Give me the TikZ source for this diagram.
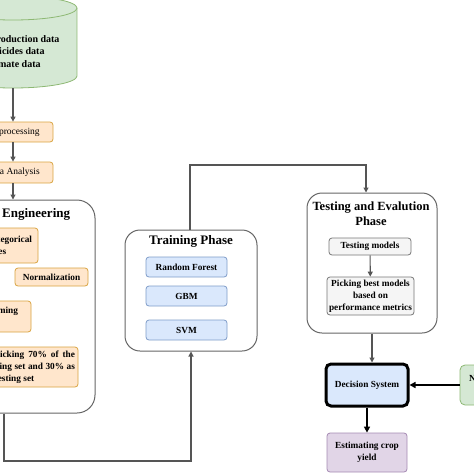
\documentclass[tikz,border=0pt]{standalone}
\usepackage{fontspec}
\setmainfont{Liberation Serif}
\usetikzlibrary{arrows.meta}
\definecolor{ofill}{HTML}{FFE6CC}\definecolor{oline}{HTML}{D9A441}
\definecolor{bfill}{HTML}{DAE8FC}\definecolor{bline}{HTML}{7F9CC9}
\definecolor{gyfill}{HTML}{F5F5F5}\definecolor{gyline}{HTML}{777777}
\definecolor{gfill}{HTML}{D5E8D4}\definecolor{gline}{HTML}{8DB873}
\definecolor{pfill}{HTML}{E1D5E7}\definecolor{pline}{HTML}{A58AB3}
\definecolor{cline}{HTML}{666666}\definecolor{aline}{HTML}{555555}
\begin{document}
\begin{tikzpicture}[x=1pt,y=-1pt,
  ibox/.style={rounded corners=3pt, line width=0.8pt, inner sep=2pt, align=center,
    font=\bfseries\fontsize{9.3}{11.8}\selectfont},
  obox/.style={ibox, fill=ofill, draw=oline},
  bbox/.style={ibox, fill=bfill, draw=bline},
  gbox/.style={ibox, fill=gyfill, draw=gyline},
  cont/.style={draw=cline, line width=1pt, rounded corners=18pt, fill=white},
  ttl/.style={font=\bfseries\fontsize{13}{15}\selectfont, inner sep=0pt, align=center},
  conn/.style={draw=aline, line width=1.1pt, -{Triangle[length=5pt,width=5pt]}},
  bold/.style={draw=black, line width=2pt, -{Triangle[length=6pt,width=6pt]}}]
\useasboundingbox (0,0) rectangle (474,474);
\clip (0,0) rectangle (474,474);
% database cylinder
\fill[gfill] (13,76) ellipse [x radius=64, y radius=12];
\fill[gfill] (-51,8) rectangle (77,76);
\draw[gline, line width=0.8pt] (-51,8) -- (-51,76) arc [start angle=180, end angle=0, x radius=64, y radius=12] -- (77,8);
\draw[gline, fill=gfill, line width=0.8pt] (13,8) ellipse [x radius=64, y radius=12];
\node[font=\bfseries\fontsize{10}{12.5}\selectfont, align=center] (db) at (13,51.5)
  {Crop production data\\Pesticides data\\Climate data};
\coordinate (dbb) at (13,88);
% left column
\node[obox, font=\fontsize{9.5}{11}\selectfont, minimum width=80pt, minimum height=20pt] (prep) at (13,132) {Preprocessing};
\node[obox, font=\fontsize{9.5}{11}\selectfont, minimum width=80pt, minimum height=21pt] (ana) at (13,172.5) {Data Analysis};
\node[cont, minimum width=164pt, minimum height=213pt] (fe) at (13,306.5) {};
\node[ttl] (fet) at (13,214) {Feature Engineering};
\node[obox, minimum width=98pt, minimum height=35pt] (cat) at (-11,245.5) {Encoding Categorical\\Features};
\node[obox, minimum width=73pt, minimum height=18pt] (norm) at (51.5,277) {Normalization};
\node[obox, minimum width=101pt, minimum height=31pt, text width=75pt, inner xsep=13pt, align=right,
  text height=9pt, text depth=16pt] (trim) at (-19.5,316.5) {Data Trimming};
\node[obox, minimum height=40pt, text width=95pt, inner xsep=3pt, align=justify] (split) at (27.5,367)
  {By picking 70\% of the\linebreak training set and 30\% as\linebreak the testing set};
% training
\node[cont, rounded corners=15pt, minimum width=132pt, minimum height=121pt] (train) at (191,290.5) {};
\node[ttl] (trt) at (191,241) {Training Phase};
\node[bbox, minimum width=81pt, minimum height=20pt] (rf) at (186.5,267) {Random Forest};
\node[bbox, minimum width=81pt, minimum height=20pt] (gbm) at (186.5,296) {GBM};
\node[bbox, minimum width=81pt, minimum height=20pt] (svm) at (186.5,330) {SVM};
% testing
\node[cont, rounded corners=15pt, minimum width=130pt, minimum height=140pt] (test) at (372,263) {};
\node[ttl, font=\bfseries\fontsize{12.5}{15}\selectfont] (tet) at (371,214) {Testing and Evalution\\Phase};
\node[gbox, minimum width=82pt, minimum height=17pt] (tm) at (370,246.5) {Testing models};
\node[gbox, minimum width=87pt, minimum height=38pt] (pick) at (370.5,296) {Picking best models\\based on\\performance metrics};
% decision
\node[ibox, fill=bfill, draw=black, line width=3pt, rounded corners=5pt, minimum width=82pt, minimum height=42pt] (dec) at (367,385) {Decision System};
\node[ibox, fill=pfill, draw=pline, minimum width=80pt, minimum height=39pt] (est) at (367,452.5) {Estimating crop\\yield};
\node[ibox, fill=gfill, draw=gline, rounded corners=5pt, minimum width=80pt, minimum height=40pt, text width=62pt, inner xsep=9pt,
  align=left, text height=13pt, text depth=21pt] (new) at (500,385) {New data};
% connectors
\draw[conn] (dbb) -- (prep);
\draw[conn] (prep) -- (ana);
\draw[conn] (ana) -- (fe.north);
\coordinate (c1) at (4,461);
\draw[conn] (fe.south -| c1) -- (c1) -| (train.south);
\coordinate (c2) at (190,165);
\coordinate (c3) at (366,165);
\draw[conn] (train.north -| c2) -- (c2) -- (c3) -- (test.north -| c3);
\draw[conn] (tm) -- (pick);
\draw[conn] (test.south) -- (test.south |- dec.north);
\draw[bold] (dec) -- (est);
\draw[bold] (new) -- (dec);
\end{tikzpicture}
\end{document}
